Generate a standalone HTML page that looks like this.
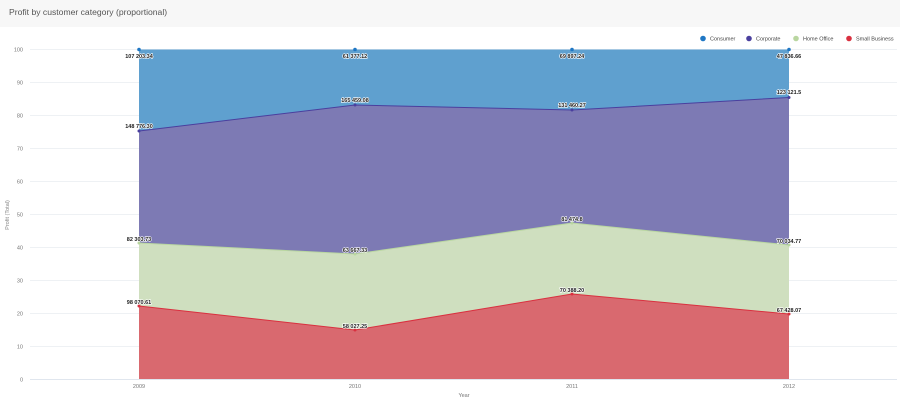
<!DOCTYPE html>
<html><head><style>
body{margin:0;background:#fff;font-family:"Liberation Sans",sans-serif}
</style></head><body>
<svg width="900" height="400" xmlns="http://www.w3.org/2000/svg" font-family="Liberation Sans, sans-serif">
<rect x="0" y="0" width="900" height="27" fill="#f7f7f7"/>
<text x="9" y="15" font-size="8.6" fill="#555">Profit by customer category (proportional)</text>
<g font-size="5.5" fill="#444">
<circle cx="703" cy="38.5" r="2.8" fill="#1f77c4"/><text x="710" y="40.5">Consumer</text>
<circle cx="749" cy="38.5" r="2.8" fill="#4a3f9e"/><text x="756" y="40.5">Corporate</text>
<circle cx="796" cy="38.5" r="2.8" fill="#b9d6a0"/><text x="803" y="40.5">Home Office</text>
<circle cx="849" cy="38.5" r="2.8" fill="#d9303f"/><text x="856" y="40.5">Small Business</text>
</g>
<g stroke="#eef1f4" stroke-width="1">
<line x1="30" x2="897" y1="49.5" y2="49.5"/><line x1="30" x2="897" y1="82.5" y2="82.5"/>
<line x1="30" x2="897" y1="115.5" y2="115.5"/><line x1="30" x2="897" y1="148.5" y2="148.5"/>
<line x1="30" x2="897" y1="181.5" y2="181.5"/><line x1="30" x2="897" y1="214.5" y2="214.5"/>
<line x1="30" x2="897" y1="247.5" y2="247.5"/><line x1="30" x2="897" y1="280.5" y2="280.5"/>
<line x1="30" x2="897" y1="313.5" y2="313.5"/><line x1="30" x2="897" y1="346.5" y2="346.5"/>
<line x1="30" x2="897" y1="379.5" y2="379.5" stroke="#e0e6ee"/>
</g>
<g font-size="5.5" fill="#777" text-anchor="end">
<text x="23" y="51.5">100</text><text x="23" y="84.5">90</text><text x="23" y="117.5">80</text>
<text x="23" y="150.5">70</text><text x="23" y="183.5">60</text><text x="23" y="216.5">50</text>
<text x="23" y="249.5">40</text><text x="23" y="282.5">30</text><text x="23" y="315.5">20</text>
<text x="23" y="348.5">10</text><text x="23" y="381.5">0</text>
</g>
<text transform="translate(9,215) rotate(-90)" font-size="5.5" fill="#888" text-anchor="middle">Profit (Total)</text>
<g font-size="5.5" fill="#777" text-anchor="middle">
<text x="139" y="388">2009</text><text x="355" y="388">2010</text><text x="572" y="388">2011</text><text x="789" y="388">2012</text>
<text x="464" y="397">Year</text>
</g>
<polygon points="139,49.5 355,49.5 572,49.5 789,49.5 789,97.5 572,110 355,105 139,131" fill="#5fa0cf"/>
<polygon points="139,131 355,105 572,110 789,97.5 789,245 572,223 355,254 139,243" fill="#7d7ab4"/>
<polygon points="139,243 355,254 572,223 789,245 789,314 572,294 355,330 139,306" fill="#cfdfbf"/>
<polygon points="139,306 355,330 572,294 789,314 789,379 139,379" fill="#d9696f"/>
<polyline points="139,131 355,105 572,110 789,97.5" fill="none" stroke="#4a3f9e" stroke-width="1"/>
<polyline points="139,243 355,254 572,223 789,245" fill="none" stroke="#b9d6a0" stroke-width="1"/>
<polyline points="139,306 355,330 572,294 789,314" fill="none" stroke="#d9303f" stroke-width="1"/>
<g fill="#1f77c4"><circle cx="139" cy="49.5" r="1.8"/><circle cx="355" cy="49.5" r="1.8"/><circle cx="572" cy="49.5" r="1.8"/><circle cx="789" cy="49.5" r="1.8"/></g>
<g fill="#4a3f9e"><circle cx="139" cy="131" r="1.5"/><circle cx="355" cy="105" r="1.5"/><circle cx="572" cy="110" r="1.5"/><circle cx="789" cy="97.5" r="1.5"/></g>
<g fill="#b9d6a0"><circle cx="139" cy="243" r="1.5"/><circle cx="355" cy="254" r="1.5"/><circle cx="572" cy="223" r="1.5"/><circle cx="789" cy="245" r="1.5"/></g>
<g fill="#d9303f"><circle cx="139" cy="306" r="1.5"/><circle cx="355" cy="330" r="1.5"/><circle cx="572" cy="294" r="1.5"/><circle cx="789" cy="314" r="1.5"/></g>
<g font-size="5.5" fill="#222" stroke="#fff" stroke-width="1.2" paint-order="stroke" text-anchor="middle" font-weight="bold">
<text x="139" y="58">107 203.34</text><text x="355" y="58">61 377.12</text><text x="572" y="58">69 897.24</text><text x="789" y="58">47 836.66</text>
<text x="139" y="128">148 776.30</text><text x="355" y="102">165 459.08</text><text x="572" y="107">131 460.27</text><text x="789" y="94">123 121.5</text>
<text x="139" y="241">82 303.73</text><text x="355" y="252">63 667.33</text><text x="572" y="221">81 474.8</text><text x="789" y="243">70 034.77</text>
<text x="139" y="304">98 070.61</text><text x="355" y="328">58 027.25</text><text x="572" y="292">70 388.20</text><text x="789" y="312">67 428.07</text>
</g>
</svg>
</body></html>
